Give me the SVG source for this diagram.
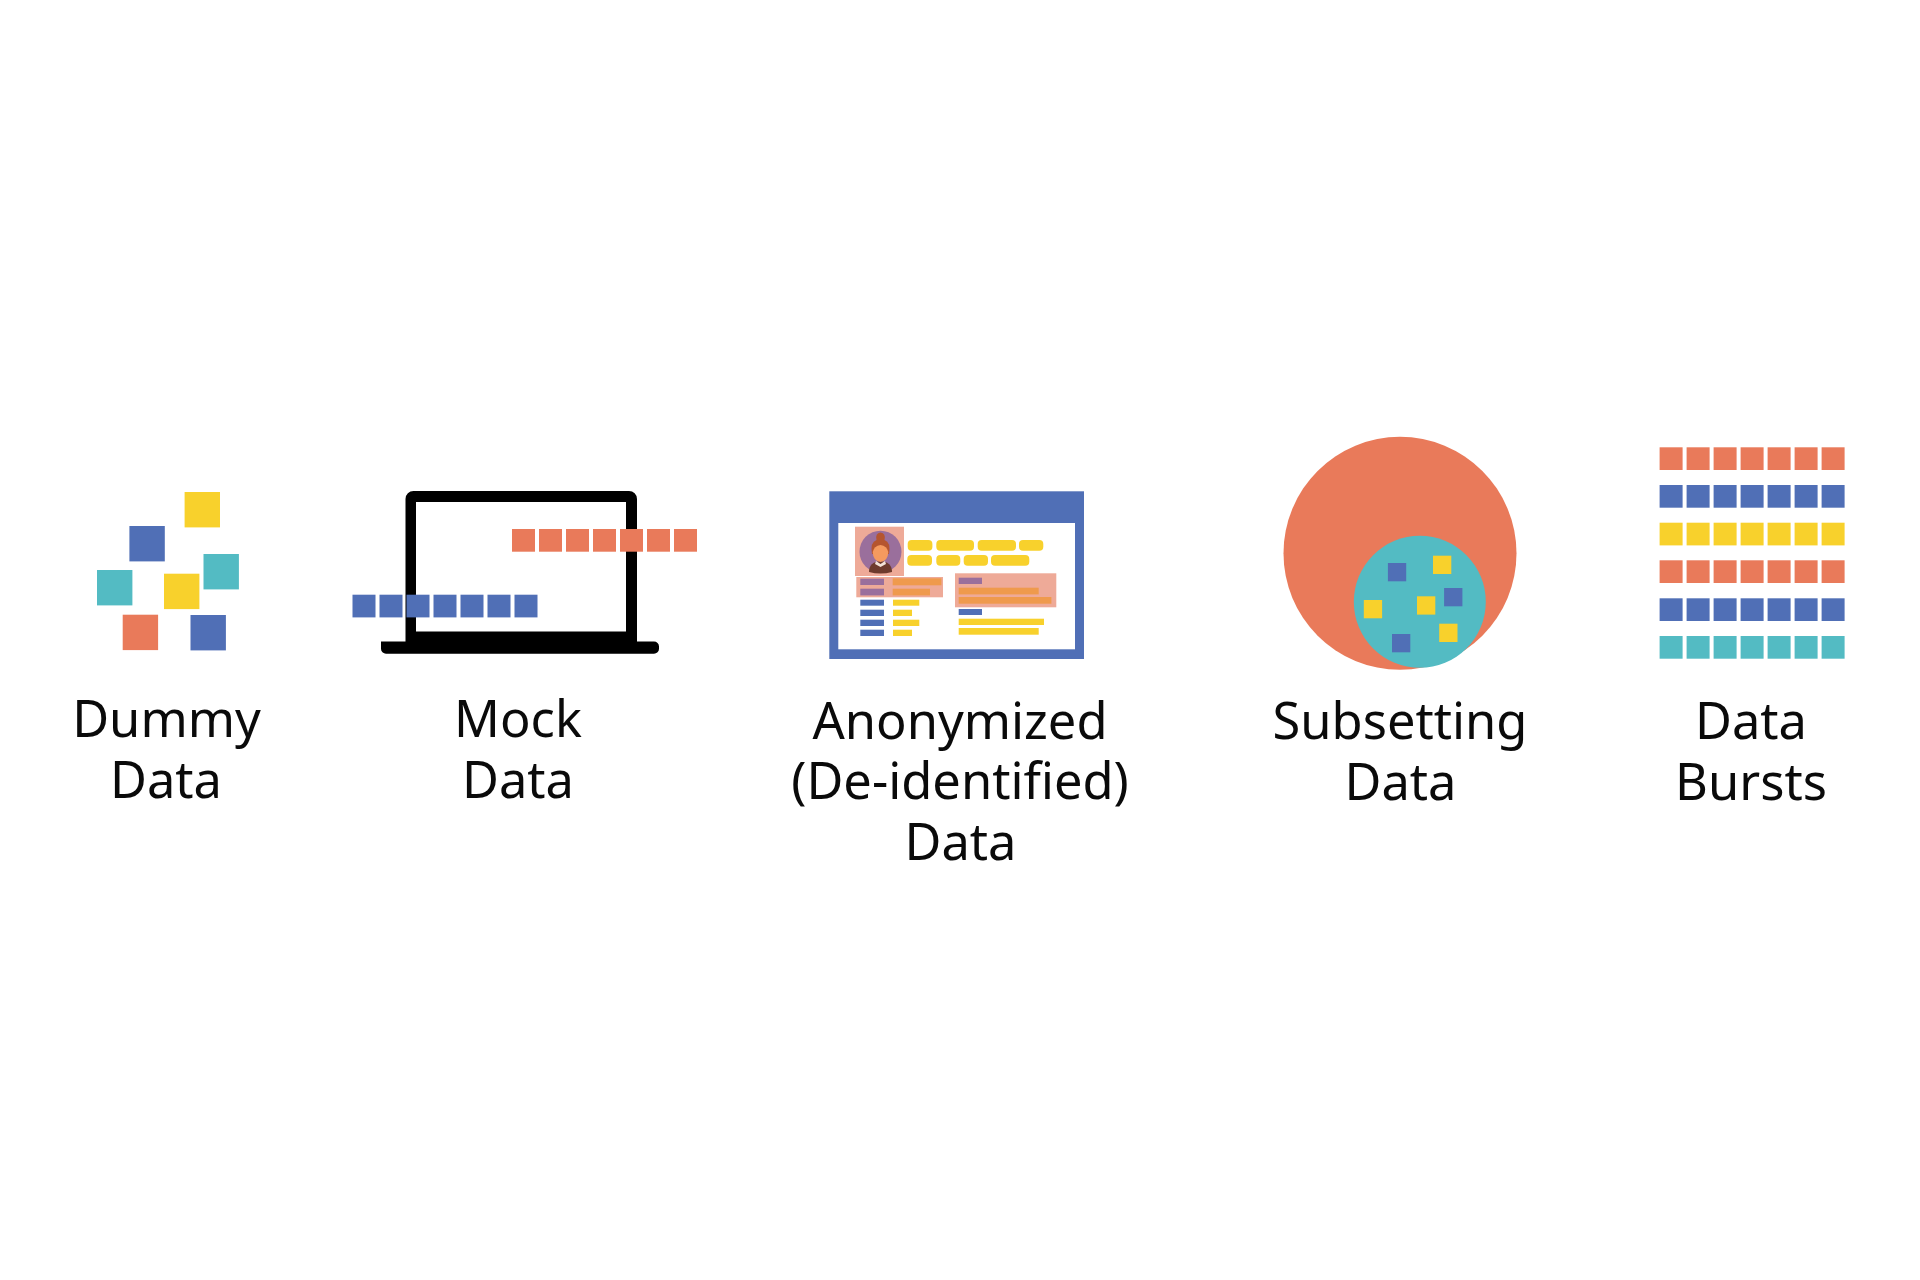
<svg xmlns="http://www.w3.org/2000/svg" xmlns:xlink="http://www.w3.org/1999/xlink" width="1920" height="1280" viewBox="0 0 1920 1280">
<style>
.o{fill:#e97a5a}.b{fill:#506fb6}.y{fill:#f8d12c}.t{fill:#53bbc3}.p{fill:#9a6f9c}.a{fill:#ef9a4d}.s{fill:#eeaa98}
.l{font-family:"Noto Sans","Open Sans",sans-serif;font-size:50.6px;fill:#0a0a0a;text-anchor:middle}
</style>
<defs>
<g id="row"><rect width="23" height="22.7"/><rect x="27" width="23" height="22.7"/><rect x="54" width="23" height="22.7"/><rect x="81" width="23" height="22.7"/><rect x="108" width="23" height="22.7"/><rect x="135" width="23" height="22.7"/><rect x="162" width="23" height="22.7"/></g>
</defs>
<rect width="1920" height="1280" fill="#fff"/>
<g id="dummy-data">
<rect class="y" x="184.6" y="492" width="35.4" height="35.4"/>
<rect class="b" x="129.4" y="526" width="35.4" height="35.4"/>
<rect class="t" x="203.5" y="554" width="35.4" height="35.4"/>
<rect class="t" x="97" y="570" width="35.4" height="35.4"/>
<rect class="y" x="164" y="573.7" width="35.4" height="35.4"/>
<rect class="o" x="122.7" y="614.7" width="35.4" height="35.4"/>
<rect class="b" x="190.5" y="615" width="35.4" height="35.4"/>
<text class="l"><tspan x="166.5" y="737">Dummy</tspan><tspan x="166" y="798">Data</tspan></text>
</g>
<g id="mock-data">
<path fill-rule="evenodd" d="M413.500 491H629A8 8 0 0 1 637 499V641.500H654A5 5 0 0 1 659 646.500V648.700A5 5 0 0 1 654 653.700H386A5 5 0 0 1 381 648.700V641.500H405.500V499A8 8 0 0 1 413.500 491ZM416 502V631.500H626V502Z" fill="#000"/>
<use xlink:href="#row" href="#row" class="o" transform="translate(512 529)"/>
<use xlink:href="#row" href="#row" class="b" transform="translate(352.500 594.700)"/>
<text class="l"><tspan x="518" y="737">Mock</tspan><tspan x="518" y="798">Data</tspan></text>
</g>
<g id="anonymized-data">
<rect class="b" x="829.300" y="491.300" width="254.700" height="167.700"/>
<rect fill="#fff" x="838.300" y="523" width="236.700" height="126.300"/>
<rect class="s" x="855" y="526.700" width="49" height="49.300"/>
<circle class="p" cx="880.500" cy="551.700" r="21"/>
<path d="M869 572Q869 562 880.500 561Q892 562 892 572Q880.500 575 869 572Z" fill="#6e3b2d"/>
<path d="M872 554Q870 542 876.500 540Q875 533 880.500 532.500Q886 533 884.500 540Q891 542 889 554Z" fill="#b5552f"/>
<path d="M872.700 552Q874 546 880.500 545Q887 546 888.300 552Q888 561 880.500 562Q873 561 872.700 552Z" fill="#f59a5f"/>
<path d="M876 561L880.500 564L885 561L886 564L880.500 567L875 564Z" fill="#f3e3d8"/>
<g class="y">
<rect x="907.700" y="540" width="24.700" height="10.700" rx="4"/><rect x="936.300" y="540" width="37.700" height="10.700" rx="4"/><rect x="977.700" y="540" width="38.300" height="10.700" rx="4"/><rect x="1019" y="540" width="24.300" height="10.700" rx="4"/>
<rect x="907.300" y="555" width="24.700" height="10.700" rx="4"/><rect x="936.300" y="555" width="24" height="10.700" rx="4"/><rect x="963.700" y="555" width="24.300" height="10.700" rx="4"/><rect x="991" y="555" width="38.300" height="10.700" rx="4"/>
</g>
<rect class="s" x="856.300" y="577" width="86.700" height="20.300"/>
<rect class="s" x="955" y="573.300" width="101.300" height="34"/>
<g class="p">
<rect x="860.300" y="578.700" width="23.700" height="6.300"/><rect x="860.300" y="588.700" width="23.700" height="6.700"/><rect x="958.700" y="577.700" width="23.300" height="6.300"/>
</g>
<g class="a">
<rect x="892.700" y="578.300" width="48.700" height="7"/><rect x="892.700" y="588.700" width="37.300" height="6.700"/><rect x="958.700" y="587.700" width="80" height="6.700"/><rect x="958.700" y="597" width="92.700" height="6.700"/>
</g>
<g class="b">
<rect x="860.300" y="599.700" width="23.700" height="6"/><rect x="860.300" y="609.700" width="23.700" height="6.300"/><rect x="860.300" y="619.700" width="23.700" height="6.300"/><rect x="860.300" y="629.700" width="23.700" height="6.300"/><rect x="958.700" y="609" width="23.300" height="6"/>
</g>
<g class="y">
<rect x="893" y="599.700" width="26.300" height="6"/><rect x="893" y="609.700" width="19" height="6.300"/><rect x="893" y="619.700" width="26.300" height="6.300"/><rect x="893" y="629.700" width="19" height="6.300"/><rect x="958.700" y="618.700" width="85.300" height="6.300"/><rect x="958.700" y="628" width="80" height="6.700"/>
</g>
<text class="l"><tspan x="960" y="739">Anonymized</tspan><tspan x="960" y="799">(De-identified)</tspan><tspan x="960.500" y="860">Data</tspan></text>
</g>
<g id="subsetting-data">
<circle class="o" cx="1400" cy="553.300" r="116.500"/>
<circle class="t" cx="1419.800" cy="601.800" r="66"/>
<rect class="b" x="1387.900" y="563" width="18.300" height="18.300"/>
<rect class="y" x="1433" y="555.700" width="18.300" height="18.300"/>
<rect class="b" x="1444.100" y="588" width="18.300" height="18.300"/>
<rect class="y" x="1417" y="596.300" width="18.300" height="18.300"/>
<rect class="y" x="1363.800" y="600" width="18.300" height="18.300"/>
<rect class="y" x="1439.200" y="623.700" width="18.300" height="18.300"/>
<rect class="b" x="1392" y="634" width="18.300" height="18.300"/>
<text class="l"><tspan x="1400" y="739">Subsetting</tspan><tspan x="1400.500" y="799.500">Data</tspan></text>
</g>
<g id="data-bursts">
<use xlink:href="#row" href="#row" class="o" transform="translate(1659.600 447.300)"/>
<use xlink:href="#row" href="#row" class="b" transform="translate(1659.600 485)"/>
<use xlink:href="#row" href="#row" class="y" transform="translate(1659.600 522.700)"/>
<use xlink:href="#row" href="#row" class="o" transform="translate(1659.600 560.300)"/>
<use xlink:href="#row" href="#row" class="b" transform="translate(1659.600 598.300)"/>
<use xlink:href="#row" href="#row" class="t" transform="translate(1659.600 636)"/>
<text class="l"><tspan x="1751" y="739">Data</tspan><tspan x="1751" y="799.500">Bursts</tspan></text>
</g>
</svg>
